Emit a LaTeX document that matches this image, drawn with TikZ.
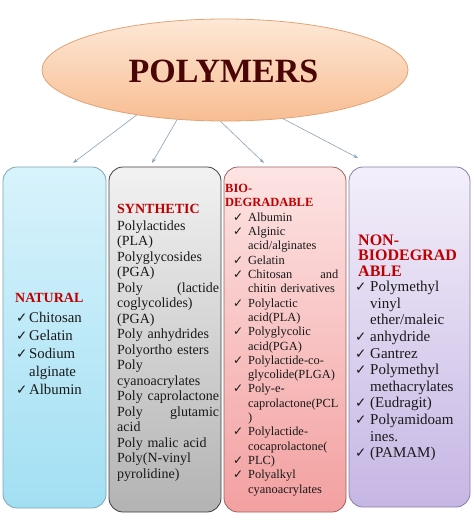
\documentclass[tikz,border=0pt]{standalone}
\usepackage{fontspec}
\setmainfont{Liberation Serif}
\newfontfamily\symfont{DejaVu Sans}
\usetikzlibrary{arrows.meta,shapes.geometric}
\definecolor{hdr}{HTML}{C00000}
\definecolor{ellT}{HTML}{FDE8D6}
\definecolor{ellBot}{HTML}{F8BD92}
\definecolor{ellD}{HTML}{E2A476}
\definecolor{polc}{HTML}{4A0606}
\definecolor{bAt}{HTML}{D8F3FC}
\definecolor{bAb}{HTML}{A2DFF3}
\definecolor{bAd}{HTML}{7FA6B6}
\definecolor{bBt}{HTML}{F2F2F2}
\definecolor{bBb}{HTML}{B3B3B3}
\definecolor{bBd}{HTML}{3F3F3F}
\definecolor{bCt}{HTML}{FDE4E4}
\definecolor{bCb}{HTML}{F3A0A0}
\definecolor{bCd}{HTML}{9A6262}
\definecolor{bDt}{HTML}{F3EFFA}
\definecolor{bDb}{HTML}{C6B6E4}
\definecolor{bDd}{HTML}{8A7EA6}
\definecolor{arrc}{HTML}{8AA2BC}
\newcommand\ck[2][13.5]{\makebox[#2][l]{\smash{\symfont\fontsize{#1}{#1}\selectfont ✓}}}
\newcommand\jline[2]{\leavevmode\hbox to #1{#2}}
\begin{document}
\begin{tikzpicture}[x=1pt,y=-1pt,
  box/.style={rounded corners=14pt, line width=0.8pt, inner sep=0pt, shading=axis},
  hd/.style={anchor=north west, inner sep=0pt, align=left, text=hdr},
  items/.style={anchor=north west, inner sep=0pt, align=left, text=black!90},
  arr/.style={draw=arrc, line width=0.6pt, -{Stealth[length=5pt,width=3.5pt]}}]
\fill[white] (0,0) rectangle (474,520);
\useasboundingbox (0,0) rectangle (474,520);
% ellipse
\node[ellipse, draw=ellD, line width=0.8pt, top color=ellT, bottom color=ellBot,
  minimum width=366pt, minimum height=102pt, inner sep=0pt] (pol) at (225,70) {};
\node[text=polc, font=\bfseries\fontsize{34}{34}\selectfont] (polT) at (223.5,71.5) {POLYMERS};
% boxes
\node[box, draw=bAd, top color=bAt, bottom color=bAb, minimum width=103pt, minimum height=341pt] (natural) at (54.5,337.5) {};
\node[box, draw=bBd, top color=bBt, bottom color=bBb, minimum width=112pt, minimum height=345pt] (synthetic) at (165,339.5) {};
\node[box, draw=bCd, top color=bCt, bottom color=bCb, minimum width=122pt, minimum height=345pt] (bio) at (285,339.5) {};
\node[box, draw=bDd, top color=bDt, bottom color=bDb, minimum width=121pt, minimum height=340pt] (nonbio) at (409.5,337) {};
% arrows
\coordinate (t1) at (73,163);
\coordinate (t2) at (152,163);
\coordinate (t3) at (264,163);
\coordinate (t4) at (358,158);
\draw[arr] (pol.207) -- (t1);
\draw[arr] (pol.226) -- (t2);
\draw[arr] (pol.265) -- (t3);
\draw[arr] (pol.320) -- (t4);
% natural
\node[hd, font=\bfseries\fontsize{14}{16}\selectfont] (natH) at (15,293) {NATURAL};
\node[items, font=\fontsize{14.8}{18}\selectfont, text width=88pt] (natI) at (16,312)
 {\ck{13pt}Chitosan\\ \ck{13pt}Gelatin\\ \ck{13pt}Sodium\\ \hspace*{13pt}alginate\\ \ck{13pt}Albumin};
% synthetic
\node[hd, font=\bfseries\fontsize{14}{15.5}\selectfont] (synH) at (117,204.5) {SYNTHETIC};
\node[items, font=\fontsize{14}{15.5}\selectfont, text width=102pt] (synI) at (117,220.5)
 {Polylactides\\ (PLA)\\ Polyglycosides\\ (PGA)\\ \jline{102pt}{Poly\hfill(lactide}\\ coglycolides)\\ (PGA)\\ Poly anhydrides\\ Polyortho esters\\ Poly\\ cyanoacrylates\\ Poly caprolactone\\ \jline{102pt}{Poly\hfill glutamic}\\ acid\\ Poly malic acid\\ Poly(N-vinyl\\ pyrolidine)};
% biodegradable
\node[hd, font=\bfseries\fontsize{12.5}{14.3}\selectfont] (bioH) at (225,184) {BIO-\\DEGRADABLE};
\node[items, font=\fontsize{12.4}{14.3}\selectfont, text width=110pt] (bioI) at (233,212.5)
 {\ck[12]{15pt}Albumin\\ \ck[12]{15pt}Alginic\\ \hspace*{15pt}acid/alginates\\ \ck[12]{15pt}Gelatin\\ \ck[12]{15pt}\jline{90pt}{Chitosan\hfill and}\\ \hspace*{15pt}chitin derivatives\\ \ck[12]{15pt}Polylactic\\ \hspace*{15pt}acid(PLA)\\ \ck[12]{15pt}Polyglycolic\\ \hspace*{15pt}acid(PGA)\\ \ck[12]{15pt}Polylactide-co-\\ \hspace*{15pt}glycolide(PLGA)\\ \ck[12]{15pt}Poly-e-\\ \hspace*{15pt}caprolactone(PCL\\ \hspace*{15pt})\\ \ck[12]{15pt}Polylactide-\\ \hspace*{15pt}cocaprolactone(\\ \ck[12]{15pt}PLC)\\ \ck[12]{15pt}Polyalkyl\\ \hspace*{15pt}cyanoacrylates};
% non-biodegradable
\node[hd, font=\bfseries\fontsize{16}{15.5}\selectfont] (nonH) at (358,234.7) {NON-\\BIODEGRAD\\ABLE};
\node[items, font=\fontsize{15}{16.6}\selectfont, text width=110pt] (nonI) at (355,281)
 {\ck{15pt}Polymethyl\\ \hspace*{15pt}vinyl\\ \hspace*{15pt}ether/maleic\\ \ck{15pt}anhydride\\ \ck{15pt}Gantrez\\ \ck{15pt}Polymethyl\\ \hspace*{15pt}methacrylates\\ \ck{15pt}(Eudragit)\\ \ck{15pt}Polyamidoam\\ \hspace*{15pt}ines.\\ \ck{15pt}(PAMAM)};
\end{tikzpicture}
\end{document}
